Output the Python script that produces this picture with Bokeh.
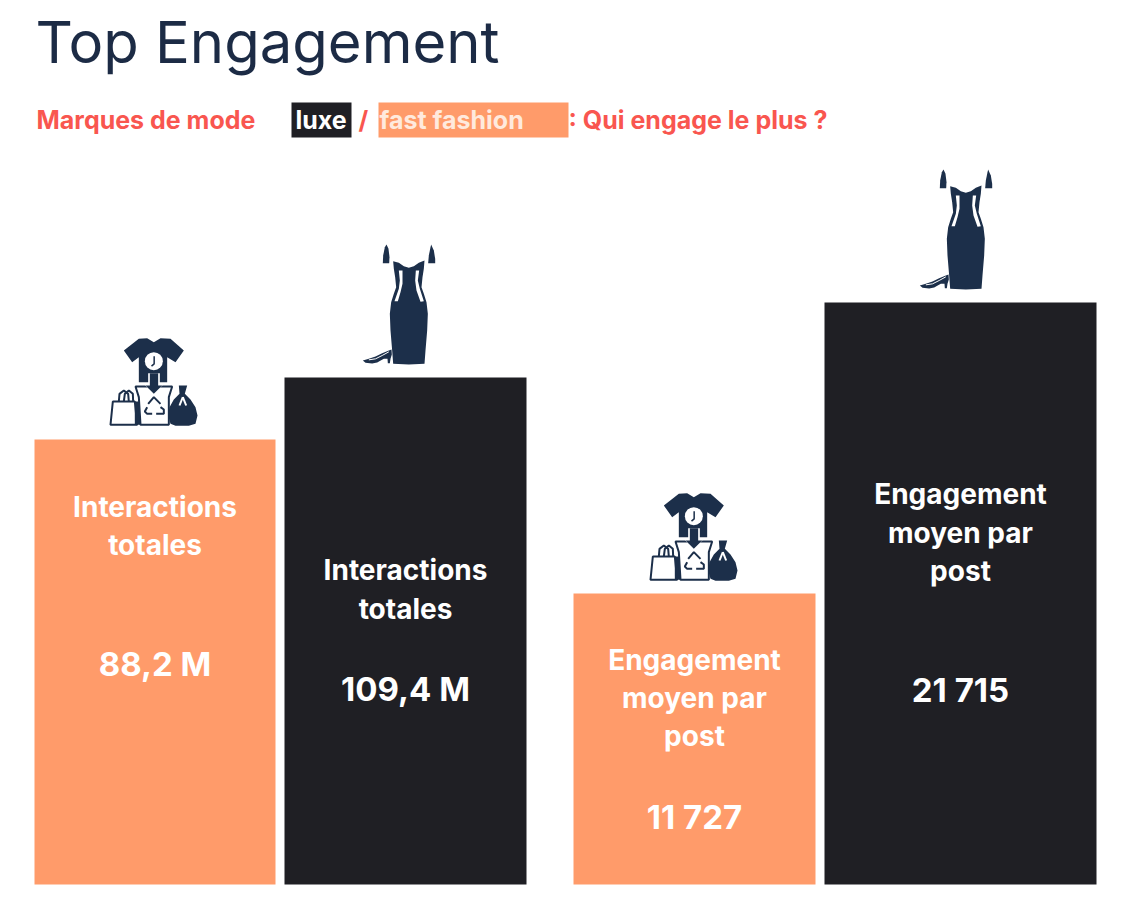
from bokeh.core.properties import value
from bokeh.embed import file_html
from bokeh.models import Range1d
from bokeh.plotting import figure
from bokeh.resources import INLINE

# chart values
groupes = ["Interactions totales", "Engagement moyen par post"]
marques = ["fast fashion", "luxe"]
interactions = [88.2, 109.4]
engagement = [11727, 21715]
labels_interactions = ["88,2 M", "109,4 M"]
labels_engagement = ["11 727", "21 715"]

ORANGE = "#ff9b6a"
DARK = "#1f1f24"
NAVY = "#1c2f4a"
RED = "#f9564f"
WHITE = "#ffffff"
FONT = "Inter"

W, H = 1109, 899
BASE = 884  # page y of the bars' foot


def value_range(values, tops):
    # y range so that each value lands on its page row
    k = (tops[0] - tops[1]) / (values[1] - values[0])
    start = values[0] - (H - tops[0]) / k
    return Range1d(start=start, end=start + H / k)


p = figure(width=W, height=H, output_backend="svg", toolbar_location=None,
           x_range=Range1d(0, W), y_range=Range1d(H, 0),
           x_axis_location=None, y_axis_location=None, min_border=0,
           outline_line_color=None, background_fill_color=WHITE)
p.grid.visible = False
p.extra_y_ranges = {
    "interactions": value_range(interactions, [439, 377]),
    "engagement": value_range(engagement, [593, 302]),
}


def bars(values, lefts, rights, name):
    r = p.extra_y_ranges[name]
    k = H / (r.end - r.start)
    foot = r.start + (H - BASE) / k
    p.quad(left=lefts, right=rights, bottom=[foot, foot], top=values,
           fill_color=[ORANGE, DARK], line_color=None, y_range_name=name)


bars(interactions, [34, 284], [275, 526], "interactions")
bars(engagement, [573, 824], [815, 1096], "engagement")


def write(x, y, txt, size, color=WHITE, align="center", style="bold"):
    p.text([x], [y], text=[txt], text_font=value(FONT), text_font_size=f"{size}px",
           text_font_style=style, text_color=color, text_align=align,
           text_baseline="middle")


def block(x, ys, name, value_y, val):
    words = {"Interactions totales": ["Interactions", "totales"],
             "Engagement moyen par post": ["Engagement", "moyen par", "post"]}[name]
    for y, w in zip(ys, words):
        write(x, y - 2, w, 28)
    write(x, value_y - 2, val, 33)


block(154.5, [508, 546], groupes[0], 665, labels_interactions[0])
block(405, [571, 610], groupes[0], 690, labels_interactions[1])
block(694, [661, 699, 737], groupes[1], 818, labels_engagement[0])
block(960, [495, 534, 572], groupes[1], 691, labels_engagement[1])

# heading
write(35, 41, "Top Engagement", 58, color="#1c2b45", align="left", style="normal")
p.quad(left=[291, 378], right=[351, 568], bottom=[137, 137], top=[102, 102],
       fill_color=[DARK, ORANGE], line_color=None)
write(36, 119, "Marques de mode", 25, color=RED, align="left")
write(320.5, 119, marques[1], 25)
write(358, 119, "/", 25, color=RED, align="left")
write(379, 119, marques[0], 25, color="#ffeadd", align="left")
write(568, 119, ": Qui engage le plus ?", 25, color=RED, align="left")


def shape(xs, ys, dx, dy, ox, oy, fill=NAVY, line=None, lw=0):
    # outlines come from 3x crops, hence the division
    p.patch([ox + x / 3 + dx for x in xs], [oy + y / 3 + dy for y in ys],
            fill_color=fill, line_color=line, line_width=lw)


def trace(xs, ys, dx, dy, ox, oy, color=NAVY, lw=2):
    p.line([ox + x / 3 + dx for x in xs], [oy + y / 3 + dy for y in ys],
           line_color=color, line_width=lw)


def dress(dx, dy):
    o = (340, 230)
    shape([158, 175, 190, 205, 220, 235, 252, 250, 246, 243, 250, 258, 262, 260, 255, 252, 205, 158, 155, 150, 148, 152, 160, 167, 164, 160],
          [92, 97, 107, 112, 107, 97, 90, 115, 140, 170, 190, 215, 250, 300, 360, 400, 402, 400, 360, 300, 250, 215, 190, 170, 140, 115], dx, dy, *o)
    shape([127, 128, 133, 138, 144, 147, 146], [98, 75, 50, 42, 55, 80, 98], dx, dy, *o)
    shape([263, 265, 270, 272, 280, 284, 284], [98, 75, 50, 42, 60, 85, 98], dx, dy, *o)
    shape([175, 186, 186, 180, 172, 162, 175, 178], [120, 120, 160, 185, 212, 212, 175, 150], dx, dy, *o, fill=WHITE)
    shape([226, 236, 232, 238, 250, 240, 228, 224], [120, 120, 150, 175, 212, 214, 180, 150], dx, dy, *o, fill=WHITE)
    shape([67, 85, 105, 125, 145, 153, 154, 150, 148, 142, 141, 130, 110, 95, 75],
          [390, 385, 378, 368, 360, 357, 372, 385, 398, 398, 385, 385, 396, 399, 397], dx, dy, *o)
    trace([85, 105, 125, 145], [388, 385, 375, 364], dx, dy, *o, color=WHITE, lw=1)


def basket(dx, dy):
    o = (95, 325)
    # paper bag
    shape([45, 52, 118, 125], [298, 228, 228, 298], dx, dy, *o, fill=WHITE, line=NAVY, lw=2)
    trace([70, 72, 85, 98, 100], [228, 205, 195, 205, 228], dx, dy, *o)
    trace([85, 88, 100, 112, 113], [228, 205, 195, 205, 228], dx, dy, *o)
    shape([118, 135, 145, 145, 118], [228, 228, 285, 298, 298], dx, dy, *o)
    # sack
    shape([250, 275, 268, 285, 300, 306, 300, 280, 240, 225, 218, 222, 235, 252],
          [180, 180, 205, 222, 245, 270, 295, 301, 301, 295, 270, 245, 222, 205], dx, dy, *o)
    trace([262, 252], [215, 240], dx, dy, *o, color=WHITE)
    trace([262, 272], [215, 240], dx, dy, *o, color=WHITE)
    # bin
    shape([120, 230, 220, 220, 135, 130], [183, 183, 215, 298, 298, 215], dx, dy, *o, fill=WHITE, line=NAVY, lw=2)
    trace([158, 175, 195], [235, 215, 235], dx, dy, *o)
    trace([155, 148, 155, 170], [245, 258, 265, 265], dx, dy, *o)
    trace([182, 205, 205, 195], [265, 265, 252, 245], dx, dy, *o)
    # shirt
    shape([85, 130, 155, 175, 195, 225, 265, 240, 215, 215, 130, 130, 110],
          [75, 40, 38, 50, 38, 40, 75, 110, 95, 170, 170, 95, 110], dx, dy, *o)
    p.scatter([95 + 175 / 3 + dx], [325 + 107 / 3 + dy], size=18, fill_color=WHITE, line_color=None)
    trace([176, 176, 168], [92, 115, 122], dx, dy, *o, lw=1.5)
    # arrow
    shape([158, 193, 193, 205, 175, 145, 158], [143, 143, 175, 175, 207, 175, 175], dx, dy, *o, fill=WHITE)
    shape([163, 188, 188, 200, 175, 150, 163], [143, 143, 180, 180, 205, 180, 180], dx, dy, *o)


dress(0, 0)
dress(557, -75)
basket(0, 0)
basket(540, 155)

open("out.html", "w").write(file_html(p, INLINE))
